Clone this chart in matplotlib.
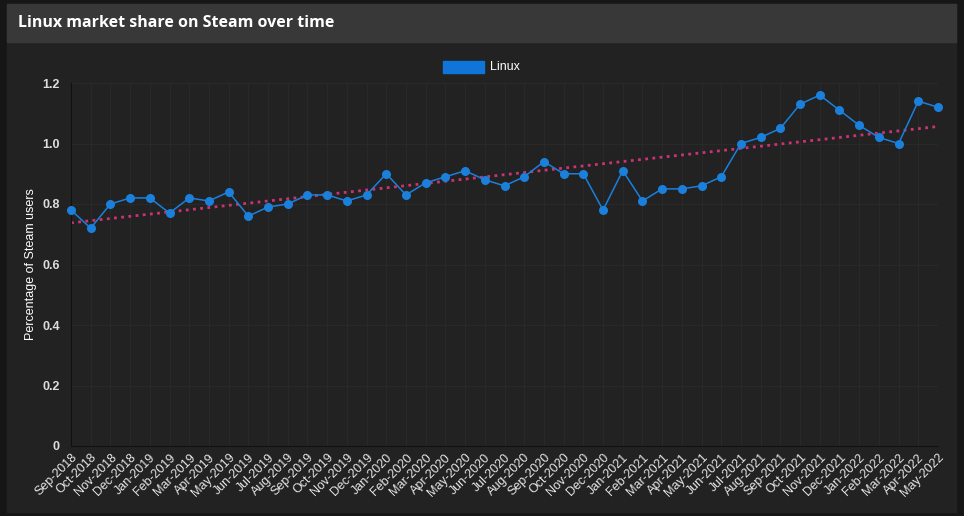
import matplotlib.pyplot as plt
import numpy as np
from matplotlib.patches import Rectangle

months = ["Sep-2018", "Oct-2018", "Nov-2018", "Dec-2018",
          "Jan-2019", "Feb-2019", "Mar-2019", "Apr-2019", "May-2019", "Jun-2019",
          "Jul-2019", "Aug-2019", "Sep-2019", "Oct-2019", "Nov-2019", "Dec-2019",
          "Jan-2020", "Feb-2020", "Mar-2020", "Apr-2020", "May-2020", "Jun-2020",
          "Jul-2020", "Aug-2020", "Sep-2020", "Oct-2020", "Nov-2020", "Dec-2020",
          "Jan-2021", "Feb-2021", "Mar-2021", "Apr-2021", "May-2021", "Jun-2021",
          "Jul-2021", "Aug-2021", "Sep-2021", "Oct-2021", "Nov-2021", "Dec-2021",
          "Jan-2022", "Feb-2022", "Mar-2022", "Apr-2022", "May-2022"]
linux = [0.78, 0.72, 0.80, 0.82,
         0.82, 0.77, 0.82, 0.81, 0.84, 0.76,
         0.79, 0.80, 0.83, 0.83, 0.81, 0.83,
         0.90, 0.83, 0.87, 0.89, 0.91, 0.88,
         0.86, 0.89, 0.94, 0.90, 0.90, 0.78,
         0.91, 0.81, 0.85, 0.85, 0.86, 0.89,
         1.00, 1.02, 1.05, 1.13, 1.16, 1.11,
         1.06, 1.02, 1.00, 1.14, 1.12]
yticks = [0, 0.2, 0.4, 0.6, 0.8, 1.0, 1.2]
ytick_labels = ["0", "0.2", "0.4", "0.6", "0.8", "1.0", "1.2"]

W, H = 964, 516
fig = plt.figure(figsize=(W / 100, H / 100), dpi=100)
fig.patch.set_facecolor("#161616")

# card + header
fig.patches.append(Rectangle((7 / W, 1 - 512 / H), 949 / W, 508 / H,
                             transform=fig.transFigure, color="#222222", zorder=-10))
fig.patches.append(Rectangle((7 / W, 1 - 42 / H), 949 / W, 38 / H,
                             transform=fig.transFigure, color="#383838", zorder=-10))
fig.text(18 / W, 1 - 23 / H, "Linux market share on Steam over time",
         color="white", fontsize=11.5, fontweight="bold", family="Open Sans",
         va="center", ha="left")

ax = fig.add_axes([71 / W, 1 - 446 / H, 867 / W, 363 / H])
ax.set_facecolor("#222222")

x = np.arange(len(linux))
ax.plot(x, linux, color="#1a80dc", lw=1.1, marker="o", ms=6.5,
        markeredgewidth=0, zorder=3, clip_on=False)

# trend line
k, b = np.polyfit(x, linux, 1)
ax.plot(x, k * x + b, color="#cc3373", lw=2, ls=(0, (1, 1.6)), zorder=2)

ax.set_xlim(0, len(linux) - 1)
ax.set_ylim(0, 1.2)
ax.set_yticks(yticks)
ax.set_yticklabels(ytick_labels)
ax.set_xticks(x)
ax.set_xticklabels(months, rotation=45, ha="right", rotation_mode="anchor")

for lab in ax.get_yticklabels():
    lab.set_fontweight("bold")
ax.tick_params(axis="y", colors="#dddddd", labelsize=9, length=0, pad=8)
ax.tick_params(axis="x", colors="#e6e6e6", labelsize=9, length=0, pad=4)
for lab in ax.get_xticklabels() + ax.get_yticklabels():
    lab.set_family("Liberation Sans")

ax.grid(True, color="#292929", lw=0.8)
ax.set_axisbelow(True)
for s in ["top", "right"]:
    ax.spines[s].set_visible(False)
ax.spines["left"].set_color("#111111")
ax.spines["bottom"].set_color("#111111")

ax.set_ylabel("Percentage of Steam users", color="white", fontsize=9,
              family="Liberation Sans", labelpad=4)

# legend
fig.patches.append(Rectangle((443 / W, 1 - 73 / H), 41 / W, 12 / H,
                             transform=fig.transFigure, color="#0f75d8", zorder=2))
fig.text(490 / W, 1 - 67 / H, "Linux", color="white", fontsize=9,
         family="Liberation Sans", va="center", ha="left")

fig.savefig("out.png", dpi=100, facecolor=fig.get_facecolor())
